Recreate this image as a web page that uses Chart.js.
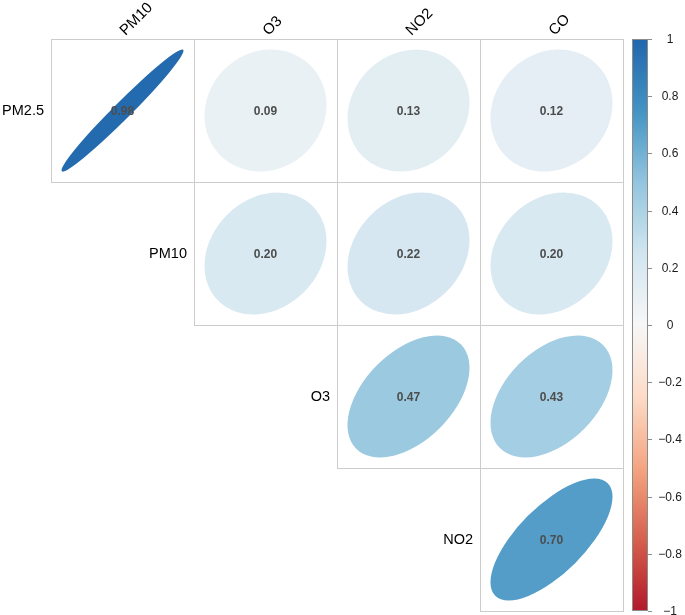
<!DOCTYPE html>
<html><head><meta charset="utf-8">
<script src="https://cdn.jsdelivr.net/npm/chart.js@4.4.1/dist/chart.umd.min.js"></script>
<style>html,body{margin:0;padding:0;background:#fff}#wrap{width:685px;height:615px}</style>
</head><body><div id="wrap"><canvas id="c" width="685" height="615"></canvas></div>
<script>
const rowLabels = ['PM2.5', 'PM10', 'O3', 'NO2'];
const colLabels = ['PM10', 'O3', 'NO2', 'CO'];
const corrPM25 = [0.98, 0.09, 0.13, 0.12];
const corrPM10 = [null, 0.20, 0.22, 0.20];
const corrO3   = [null, null, 0.47, 0.43];
const corrNO2  = [null, null, null, 0.70];
const colorbarTicks = [1, 0.8, 0.6, 0.4, 0.2, 0, -0.2, -0.4, -0.6, -0.8, -1];
const paletteRdBu = ['#B2182B','#D6604D','#F4A582','#FDDBC7','#F7F7F7','#D1E5F0','#92C5DE','#4393C3','#2166AC'];

const matrix = [corrPM25, corrPM10, corrO3, corrNO2];
const points = [];
matrix.forEach((row, i) => row.forEach((v, j) => {
  if (v !== null) points.push({ x: colLabels[j], y: rowLabels[i], r: v });
}));

function hexToRgb(h) { return [1,3,5].map(k => parseInt(h.substr(k, 2), 16)); }
function colorFor(v) {
  const t = (v + 1) / 2 * (paletteRdBu.length - 1);
  const i = Math.min(Math.floor(t), paletteRdBu.length - 2);
  const f = t - i;
  const a = hexToRgb(paletteRdBu[i]), b = hexToRgb(paletteRdBu[i + 1]);
  return 'rgb(' + a.map((c, k) => Math.round(c + (b[k] - c) * f)).join(',') + ')';
}
const FONT = "'Liberation Sans', Arial, Helvetica, sans-serif";

const corrPlugin = {
  id: 'corr',
  afterDatasetsDraw(chart) {
    const ctx = chart.ctx;
    const xs = chart.scales.x, ys = chart.scales.y, cb = chart.scales.cb;
    const cw = xs.getPixelForValue(1) - xs.getPixelForValue(0);
    const ch = ys.getPixelForValue(1) - ys.getPixelForValue(0);
    const meta = chart.getDatasetMeta(0);
    ctx.save();
    // cell borders
    ctx.strokeStyle = '#CCCCCC';
    ctx.lineWidth = 1;
    points.forEach((p, k) => {
      const el = meta.data[k];
      ctx.strokeRect(Math.round(el.x - cw / 2) + 0.5, Math.round(el.y - ch / 2) + 0.5, Math.round(cw), Math.round(ch));
    });
    // ellipses
    const s = cw * 61 / 143;
    points.forEach((p, k) => {
      const el = meta.data[k];
      ctx.beginPath();
      ctx.ellipse(el.x, el.y, s * Math.sqrt(1 + Math.abs(p.r)), s * Math.sqrt(1 - Math.abs(p.r)), p.r >= 0 ? -Math.PI / 4 : Math.PI / 4, 0, Math.PI * 2);
      ctx.fillStyle = colorFor(p.r);
      ctx.fill();
    });
    // values
    ctx.fillStyle = '#4D4D4D';
    ctx.font = 'bold 12px ' + FONT;
    ctx.textAlign = 'center';
    ctx.textBaseline = 'middle';
    points.forEach((p, k) => {
      const el = meta.data[k];
      ctx.fillText(p.r.toFixed(2), el.x, el.y + 1);
    });
    // row labels (left of first cell of each row)
    ctx.fillStyle = '#000';
    ctx.font = '14.5px ' + FONT;
    ctx.textAlign = 'right';
    rowLabels.forEach((lab, i) => {
      const x0 = xs.getPixelForValue(i) - cw / 2;
      ctx.fillText(lab, x0 - 7, ys.getPixelForValue(i));
    });
    // column labels rotated
    ctx.font = '15px ' + FONT;
    ctx.textAlign = 'left';
    ctx.textBaseline = 'alphabetic';
    colLabels.forEach((lab, j) => {
      ctx.save();
      ctx.translate(xs.getPixelForValue(j) + 3, ys.top - 3);
      ctx.rotate(-Math.PI / 4);
      ctx.fillText(lab, 0, 0);
      ctx.restore();
    });
    // colorbar
    const bx = 632, bw = 16;
    const top = cb.getPixelForValue(1), bot = cb.getPixelForValue(-1);
    const g = ctx.createLinearGradient(0, top, 0, bot);
    paletteRdBu.slice().reverse().forEach((c, i) => g.addColorStop(i / (paletteRdBu.length - 1), c));
    ctx.fillStyle = g;
    ctx.fillRect(bx, top, bw, bot - top);
    ctx.strokeStyle = '#8C8C8C';
    ctx.strokeRect(bx + 0.5, top + 0.5, bw - 1, bot - top - 1);
    ctx.fillStyle = '#1A1A1A';
    ctx.font = '12px ' + FONT;
    ctx.textAlign = 'center';
    ctx.textBaseline = 'middle';
    colorbarTicks.forEach(v => {
      const y = Math.round(cb.getPixelForValue(v)) + 0.5;
      ctx.beginPath();
      ctx.moveTo(bx + bw, y); ctx.lineTo(bx + bw + 4, y);
      ctx.stroke();
      const lab = v === 0 ? '0' : (v < 0 ? '\u2212' : '') + String(Math.abs(v));
      ctx.fillText(lab, 670, y);
    });
    ctx.restore();
  }
};

new Chart(document.getElementById('c'), {
  type: 'scatter',
  data: { datasets: [{ data: points, pointRadius: 0, pointHoverRadius: 0 }] },
  options: {
    responsive: false,
    animation: false,
    devicePixelRatio: 1,
    layout: { padding: { left: 51, top: 39, right: 62, bottom: 4 } },
    plugins: { legend: { display: false }, tooltip: { enabled: false } },
    scales: {
      x: { type: 'category', labels: colLabels, offset: true, display: false },
      y: { type: 'category', labels: rowLabels, offset: true, display: false },
      cb: { type: 'linear', min: -1, max: 1, display: false, position: 'right' }
    }
  },
  plugins: [corrPlugin]
});
</script></body></html>
